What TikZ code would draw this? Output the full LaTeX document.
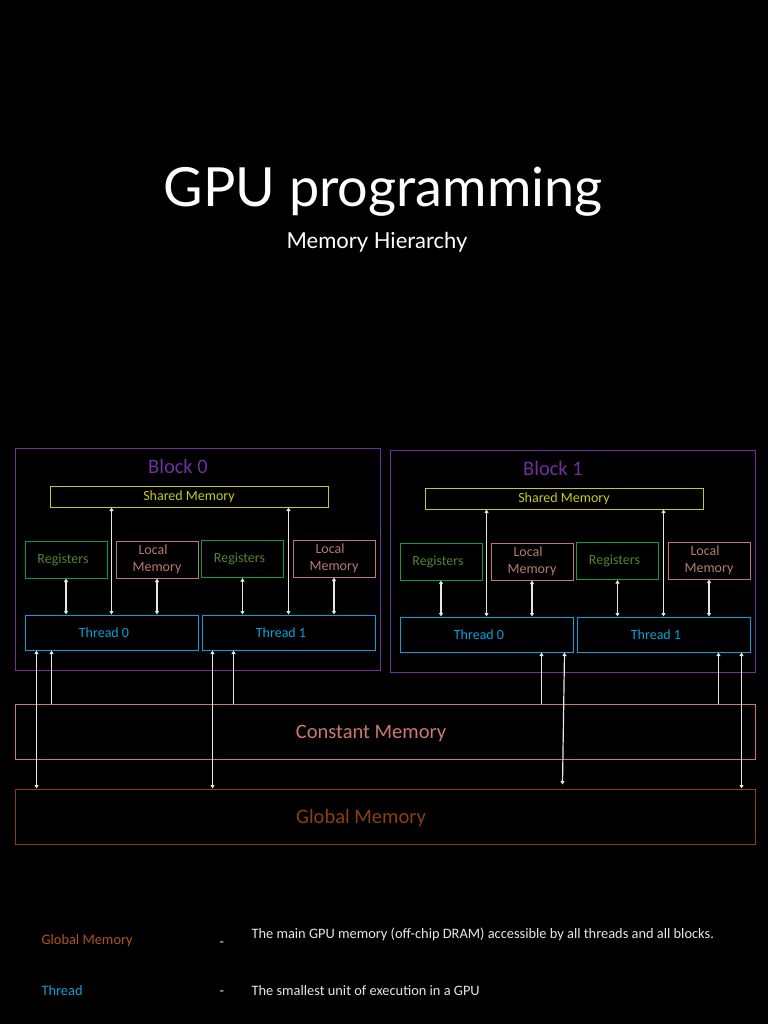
\documentclass[tikz,border=0pt]{standalone}
\usepackage{fontspec}
\setmainfont{Carlito}
\newfontfamily\titlefont{Lato}
\usetikzlibrary{arrows.meta}

\definecolor{blkcol}{HTML}{7030A0}
\definecolor{shcol}{HTML}{C8C81E}
\definecolor{regline}{HTML}{00A050}
\definecolor{regtext}{HTML}{548235}
\definecolor{loccol}{HTML}{B97A72}
\definecolor{thrcol}{HTML}{0AA0D8}
\definecolor{concol}{HTML}{CC7A6E}
\definecolor{glbcol}{HTML}{8B3F10}
\definecolor{lgdglb}{HTML}{B0541A}
\definecolor{arrcol}{HTML}{E6E6E6}

\tikzset{
  box/.style={draw, line width=1pt, inner sep=0pt, align=center, font=\fontsize{14}{16.5}\selectfont},
  blkbox/.style={box, blkcol, minimum width=365pt, minimum height=222pt},
  blklbl/.style={blkcol, font=\fontsize{20.5}{24}\selectfont},
  shbox/.style={box, shcol, minimum width=278pt, minimum height=21pt},
  regbox/.style={box, regline, text=regtext, minimum width=82pt, minimum height=37pt},
  locbox/.style={box, loccol, minimum width=82pt, minimum height=37pt},
  thrbox/.style={box, thrcol, minimum width=173pt, minimum height=35pt},
  bi/.style={arrcol, line width=1.2pt, {Triangle[length=3.5pt,width=4pt]}-{Triangle[length=3.5pt,width=4pt]}},
  up/.style={arrcol, line width=1.2pt, -{Triangle[length=3.5pt,width=4pt]}},
  lgd/.style={anchor=west, text=arrcol, font=\fontsize{14.4}{17}\selectfont}
}

\begin{document}
\begin{tikzpicture}[x=1pt,y=-1pt]
  \fill[black] (0,0) rectangle (768,1024);
  \useasboundingbox (0,0) rectangle (768,1024);

  \node[white, font=\titlefont\fontsize{54}{62}\selectfont] (title) at (383,192) {GPU programming};
  \node[white, font=\titlefont\fontsize{22}{26}\selectfont] (sub) at (377,242) {Memory Hierarchy};

  \foreach \b/\dx/\dy in {0/0/0,1/375/2}{
    \begin{scope}[shift={(\dx,\dy)}]
      \node[blkbox] (blk\b) at (197.5,559) {};
      \node[blklbl] (bl\b) at (178,466) {Block \b};
      \node[shbox] (sh\b) at (189,496.5) {Shared Memory};
      \node[regbox] (ra\b) at (66,559.5) {Registers\hspace*{6pt}};
      \node[locbox] (la\b) at (157,559.5) {Local\hspace*{8pt}\\Memory};
      \node[regbox] (rb\b) at (242.5,559) {Registers\hspace*{6pt}};
      \node[locbox] (lb\b) at (334,558.5) {Local\hspace*{8pt}\\Memory};
      \node[thrbox] (ta\b) at (111.5,632.5) {Thread 0\hspace*{15pt}};
      \node[thrbox] (tb\b) at (288.5,632.5) {Thread 1\hspace*{15pt}};

      \draw[bi] (ra\b.south) -- (ra\b.south |- ta\b.north);
      \draw[bi] (la\b.south) -- (la\b.south |- ta\b.north);
      \draw[bi] (sh\b.south -| ta\b.north) -- (ta\b.north);
      \draw[bi] (rb\b.south) -- (rb\b.south |- tb\b.north);
      \draw[bi] (lb\b.south) -- (lb\b.south |- tb\b.north);
      \draw[bi] (sh\b.south -| tb\b.north) -- (tb\b.north);
    \end{scope}
  }

  \node[box, concol, minimum width=740pt, minimum height=55pt] (cm) at (385,731.5) {};
  \node[concol, font=\fontsize{20.5}{24}\selectfont] (cmt) at (371,733) {Constant Memory};
  \node[box, glbcol, minimum width=740pt, minimum height=55pt] (gm) at (385,816.5) {};
  \node[glbcol, font=\fontsize{20.5}{24}\selectfont] (gmt) at (361,818) {Global Memory};

  % block 0 threads
  \draw[bi] ([xshift=12pt]ta0.south west) -- ([xshift=12pt]ta0.south west |- gm.north);
  \draw[up] ([xshift=27pt]ta0.south west |- cm.north) -- ([xshift=27pt]ta0.south west);
  \draw[bi] ([xshift=11pt]tb0.south west) -- ([xshift=11pt]tb0.south west |- gm.north);
  \draw[up] ([xshift=32pt]tb0.south west |- cm.north) -- ([xshift=32pt]tb0.south west);

  % block 1 threads
  \draw[up] ([xshift=-32pt]ta1.south east |- cm.north) -- ([xshift=-32pt]ta1.south east);
  \draw[bi] ([xshift=-9pt]ta1.south east) -- ([shift={(-11,-4)}]ta1.south east |- gm.north);
  \draw[up] ([xshift=-32pt]tb1.south east |- cm.north) -- ([xshift=-32pt]tb1.south east);
  \draw[bi] ([xshift=-9pt]tb1.south east) -- ([xshift=-9pt]tb1.south east |- gm.north);

  % legend
  \node[lgd, text=lgdglb] (lg1) at (38,941) {Global Memory};
  \node[lgd] (ld1) at (216,944) {-};
  \node[lgd] (lt1) at (248,934) {The main GPU memory (off-chip DRAM) accessible by all threads and all blocks.};
  \node[lgd, text=thrcol] (lg2) at (38,991) {Thread};
  \node[lgd] (ld2) at (216,993) {-};
  \node[lgd] (lt2) at (248,991) {The smallest unit of execution in a GPU};
\end{tikzpicture}
\end{document}
